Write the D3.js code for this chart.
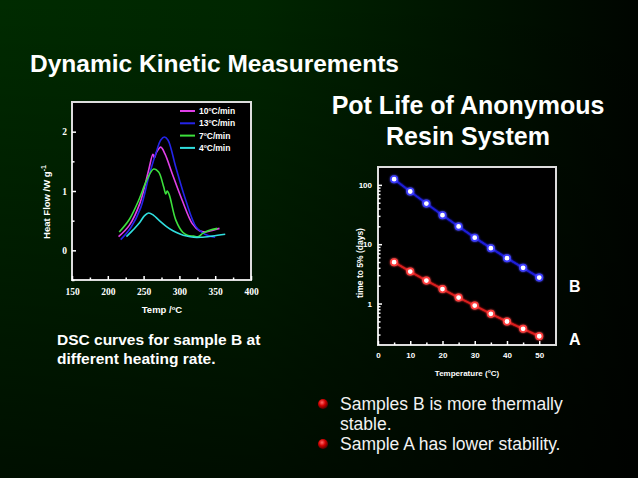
<!DOCTYPE html>
<html>
<head>
<meta charset="utf-8">
<script src="https://cdn.jsdelivr.net/npm/d3@7"></script>
<style>
  body { margin: 0; background: #000; }
  svg { display: block; font-family: "Liberation Sans", Arial, sans-serif; }
</style>
</head>
<body>
<div id="chart"></div>
<script>
// DSC curves, heat flow (W/g) against temperature (°C)
const rateNames = ["10", "13", "7", "4"];
const dsc10 = [[215,0.23],[230,0.42],[245,0.8],[257,1.35],[263,1.62],[265,1.56],[268,1.65],[274,1.74],[280,1.62],[290,1.29],[304,0.84],[318,0.45],[328,0.33],[337,0.31],[347,0.34],[356,0.37]];
const dsc13 = [[218,0.18],[232,0.38],[246,0.72],[257,1.23],[267,1.63],[274,1.86],[279,1.91],[284,1.86],[295,1.4],[309,0.84],[323,0.4],[332,0.3],[340,0.25],[350,0.22]];
const dsc7 = [[216,0.31],[230,0.52],[243,0.84],[255,1.2],[264,1.37],[271,1.32],[278,1.07],[281,0.95],[283,1.0],[286,0.93],[295,0.51],[305,0.3],[312,0.25],[320,0.24],[326,0.23],[333,0.29],[342,0.34],[353,0.37]];
const dsc4 = [[226,0.23],[235,0.34],[244,0.46],[251,0.58],[257,0.63],[264,0.59],[272,0.5],[282,0.4],[291,0.33],[300,0.28],[310,0.24],[320,0.22],[330,0.22],[346,0.24],[364,0.27]];
const dscXTicks = [150, 200, 250, 300, 350, 400];
const dscYTicks = [0, 1, 2];

// pot life, days to 5% conversion against storage temperature
const potTemps = [5, 10, 15, 20, 25, 30, 35, 40, 45, 50];
const potB = [124.6, 77.3, 48.4, 30.8, 19.9, 12.9, 8.57, 5.81, 3.99, 2.74];
const potA = [4.98, 3.46, 2.44, 1.75, 1.26, 0.925, 0.67, 0.498, 0.374, 0.281];
const potXTicks = [0, 10, 20, 30, 40, 50];
const potYTicks = [1, 10, 100];

const W = 638, H = 478;
const svg = d3.select("#chart").append("svg")
  .attr("width", W).attr("height", H);

const defs = svg.append("defs");
const bg = defs.append("linearGradient").attr("id", "bg")
  .attr("x1", 0).attr("y1", 0).attr("x2", 1).attr("y2", 0);
bg.append("stop").attr("offset", "0").attr("stop-color", "#002b00");
bg.append("stop").attr("offset", "0.4").attr("stop-color", "#002600");
bg.append("stop").attr("offset", "1").attr("stop-color", "#000500");
const shade = defs.append("linearGradient").attr("id", "shade")
  .attr("x1", 0).attr("y1", 0).attr("x2", 0).attr("y2", 1);
shade.append("stop").attr("offset", "0").attr("stop-color", "#000").attr("stop-opacity", 0);
shade.append("stop").attr("offset", "1").attr("stop-color", "#000").attr("stop-opacity", 0.65);
const ball = defs.append("radialGradient").attr("id", "ball")
  .attr("cx", "40%").attr("cy", "35%").attr("r", "65%");
ball.append("stop").attr("offset", "0").attr("stop-color", "#ff6a6a");
ball.append("stop").attr("offset", "0.5").attr("stop-color", "#d00000");
ball.append("stop").attr("offset", "1").attr("stop-color", "#500000");
const glow = defs.append("filter").attr("id", "glow")
  .attr("x", "-50%").attr("y", "-50%").attr("width", "200%").attr("height", "200%");
glow.append("feGaussianBlur").attr("stdDeviation", 1.2).attr("result", "b");
const merge = glow.append("feMerge");
merge.append("feMergeNode").attr("in", "b");
merge.append("feMergeNode").attr("in", "SourceGraphic");

svg.append("rect").attr("width", W).attr("height", H).attr("fill", "url(#bg)");
svg.append("rect").attr("width", W).attr("height", H).attr("fill", "url(#shade)");

// titles
svg.append("text").attr("x", 30).attr("y", 72)
  .attr("fill", "#fff").attr("font-size", 24.5).attr("font-weight", "bold")
  .text("Dynamic Kinetic Measurements");
svg.append("text").attr("x", 468).attr("y", 114).attr("text-anchor", "middle")
  .attr("fill", "#fff").attr("font-size", 25).attr("font-weight", "bold")
  .text("Pot Life of Anonymous");
svg.append("text").attr("x", 468).attr("y", 145).attr("text-anchor", "middle")
  .attr("fill", "#fff").attr("font-size", 25).attr("font-weight", "bold")
  .text("Resin System");

// ---------- left: DSC chart ----------
const L = {x0: 72, x1: 251, y0: 102, y1: 280};
const dx = d3.scaleLinear().domain([150, 400]).range([L.x0, L.x1]);
const dy = d3.scaleLinear().domain([-0.5, 2.5]).range([L.y1, L.y0]);

const left = svg.append("g");
left.append("rect").attr("x", L.x0).attr("y", L.y0)
  .attr("width", L.x1 - L.x0).attr("height", L.y1 - L.y0)
  .attr("fill", "#000").attr("stroke", "#ddd").attr("stroke-width", 2);

function styleAxis(g, serif) {
  g.select(".domain").remove();
  g.selectAll(".tick line").attr("stroke", "#fff").attr("stroke-width", 1.5);
  g.selectAll("text").attr("fill", "#fff").attr("font-weight", "bold")
    .style("font-family", serif ? "'Liberation Serif', serif" : "'Liberation Sans', sans-serif");
}

left.append("g").attr("transform", `translate(0,${L.y1})`)
  .call(d3.axisBottom(dx).tickValues(d3.range(175, 400, 50)).tickSize(-2.5).tickFormat(""))
  .call(g => styleAxis(g, true));
left.append("g").attr("transform", `translate(0,${L.y1})`)
  .call(d3.axisBottom(dx).tickValues(dscXTicks).tickSize(-4).tickPadding(8))
  .attr("font-size", 9.5)
  .call(g => styleAxis(g, true));
left.append("g").attr("transform", `translate(${L.x0},0)`)
  .call(d3.axisLeft(dy).tickValues([-0.5, 0.5, 1.5]).tickSize(-2.5).tickFormat(""))
  .call(g => styleAxis(g, true));
left.append("g").attr("transform", `translate(${L.x0},0)`)
  .call(d3.axisLeft(dy).tickValues(dscYTicks).tickSize(-4).tickPadding(5).tickFormat(d3.format("d")))
  .attr("font-size", 9.5)
  .call(g => styleAxis(g, true));

const dscColors = ["#e040e8", "#2424e8", "#3ce03c", "#30dede"];
const dscLine = d3.line().x(d => dx(d[0])).y(d => dy(d[1])).curve(d3.curveCatmullRom);
[dsc10, dsc13, dsc7, dsc4].forEach((s, i) => {
  left.append("path").datum(s).attr("d", dscLine)
    .attr("fill", "none").attr("stroke", dscColors[i]).attr("stroke-width", 1.6);
});

// legend
const legend = left.append("g");
rateNames.forEach((r, i) => {
  const y = 111 + i * 12.3;
  legend.append("line").attr("x1", 180).attr("x2", 195).attr("y1", y).attr("y2", y)
    .attr("stroke", dscColors[i]).attr("stroke-width", 2);
  const t = legend.append("text").attr("x", 199).attr("y", y + 3)
    .attr("fill", "#fff").attr("font-size", 8.5).attr("font-weight", "bold");
  t.append("tspan").text(r);
  t.append("tspan").attr("font-size", 5).attr("dy", -3).text("o");
  t.append("tspan").attr("dy", 3).text("C/min");
});

const xl = left.append("text").attr("x", 162).attr("y", 313).attr("text-anchor", "middle")
  .attr("fill", "#fff").attr("font-size", 9.5).attr("font-weight", "bold");
xl.append("tspan").text("Temp /");
xl.append("tspan").attr("font-size", 6).attr("dy", -3).text("o");
xl.append("tspan").attr("dy", 3).text("C");

const yl = left.append("text").attr("transform", "translate(50,202) rotate(-90)")
  .attr("text-anchor", "middle")
  .attr("fill", "#fff").attr("font-size", 9.5).attr("font-weight", "bold");
yl.append("tspan").text("Heat Flow /W g");
yl.append("tspan").attr("font-size", 7).attr("dy", -4).text("-1");

svg.append("text").attr("x", 57).attr("y", 345)
  .attr("fill", "#fff").attr("font-size", 15.5).attr("font-weight", "bold")
  .text("DSC curves for sample B at");
svg.append("text").attr("x", 57).attr("y", 364)
  .attr("fill", "#fff").attr("font-size", 15.5).attr("font-weight", "bold")
  .text("different heating rate.");

// ---------- right: pot life chart ----------
const R = {x0: 378, x1: 556, y0: 167, y1: 345};
const px = d3.scaleLinear().domain([0, 55.2]).range([R.x0, R.x1]);
const py = d3.scaleLog().domain([0.2, 200]).range([R.y1, R.y0]);

const right = svg.append("g");
right.append("rect").attr("x", R.x0).attr("y", R.y0)
  .attr("width", R.x1 - R.x0).attr("height", R.y1 - R.y0)
  .attr("fill", "#000").attr("stroke", "#ddd").attr("stroke-width", 2);

right.append("g").attr("transform", `translate(0,${R.y1})`)
  .call(d3.axisBottom(px).tickValues(d3.range(5, 55, 10)).tickSize(-2.5).tickFormat(""))
  .call(g => styleAxis(g, false));
right.append("g").attr("transform", `translate(0,${R.y1})`)
  .call(d3.axisBottom(px).tickValues(potXTicks).tickSize(-4).tickPadding(7))
  .attr("font-size", 8)
  .call(g => styleAxis(g, false));
const minorLog = py.ticks().filter(v => v > 0.2 && v < 200 && !potYTicks.includes(v));
right.append("g").attr("transform", `translate(${R.x0},0)`)
  .call(d3.axisLeft(py).tickValues(minorLog).tickSize(-2.5).tickFormat(""))
  .call(g => styleAxis(g, false));
right.append("g").attr("transform", `translate(${R.x0},0)`)
  .call(d3.axisLeft(py).tickValues(potYTicks).tickSize(-4).tickPadding(6).tickFormat(d3.format("d")))
  .attr("font-size", 8)
  .call(g => styleAxis(g, false));

const potLine = d3.line().x((d, i) => px(potTemps[i])).y(d => py(d));
[[potB, "#1c1cd8", "#3a3aff"], [potA, "#d81c1c", "#ff3a3a"]].forEach(([s, c, ring]) => {
  right.append("path").datum(s).attr("d", potLine)
    .attr("fill", "none").attr("stroke", c).attr("stroke-width", 2)
    .attr("filter", "url(#glow)");
  right.append("g").selectAll("circle").data(s).join("circle")
    .attr("cx", (d, i) => px(potTemps[i])).attr("cy", d => py(d))
    .attr("r", 3.2).attr("fill", "#fff").attr("stroke", ring).attr("stroke-width", 1.6)
    .attr("filter", "url(#glow)");
});

const pxl = right.append("text").attr("x", 467).attr("y", 376).attr("text-anchor", "middle")
  .attr("fill", "#fff").attr("font-size", 8).attr("font-weight", "bold");
pxl.append("tspan").text("Temperature (");
pxl.append("tspan").attr("font-size", 5).attr("dy", -3).text("o");
pxl.append("tspan").attr("dy", 3).text("C)");

right.append("text").attr("transform", "translate(363,263) rotate(-90)")
  .attr("text-anchor", "middle")
  .attr("fill", "#fff").attr("font-size", 8.5).attr("font-weight", "bold")
  .text("time to 5% (days)");

right.append("text").attr("x", 569).attr("y", 292)
  .attr("fill", "#fff").attr("font-size", 16).attr("font-weight", "bold").text("B");
right.append("text").attr("x", 569).attr("y", 345)
  .attr("fill", "#fff").attr("font-size", 16).attr("font-weight", "bold").text("A");

// bullet notes
const notes = [["Samples B is more thermally", "stable."], ["Sample A has lower stability."]];
let ny = 410;
notes.forEach(lines => {
  svg.append("circle").attr("cx", 323).attr("cy", ny - 6).attr("r", 5)
    .attr("fill", "url(#ball)");
  lines.forEach(l => {
    svg.append("text").attr("x", 340).attr("y", ny)
      .attr("fill", "#f2f2f2").attr("font-size", 17.5).text(l);
    ny += 20;
  });
});
</script>
</body>
</html>
